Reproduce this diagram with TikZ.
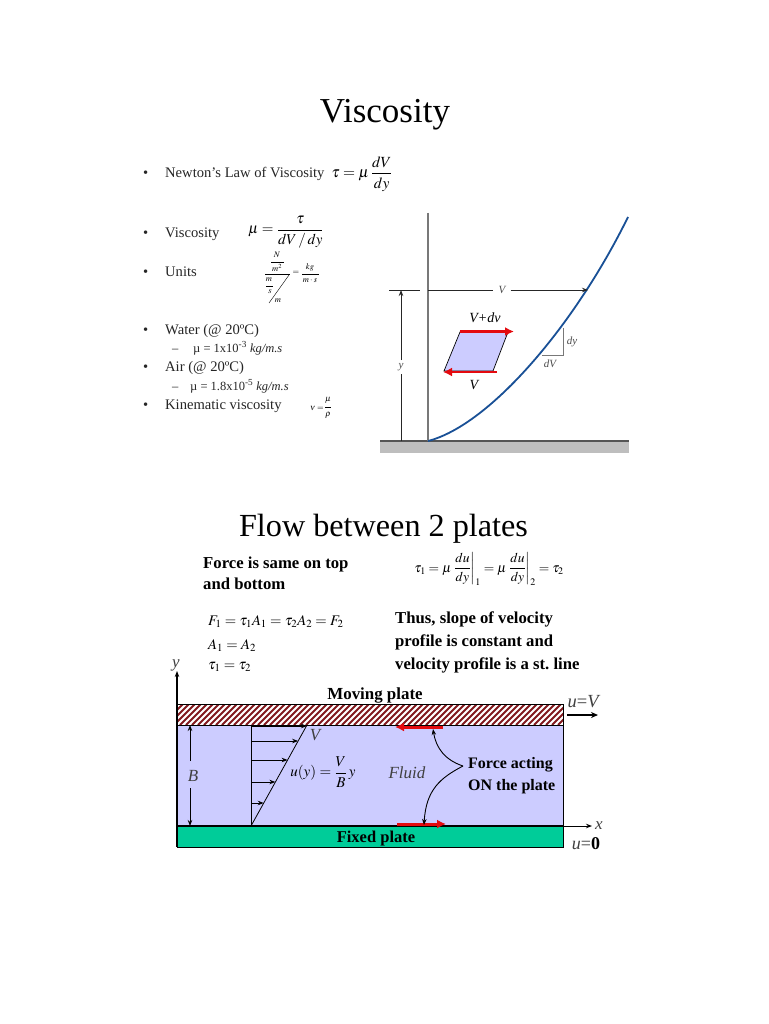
\documentclass[tikz,border=0pt]{standalone}
\usepackage{amsmath}
\usepackage{mathptmx}
\usepackage{fontspec}
\setmainfont{Liberation Serif}
\usetikzlibrary{arrows.meta}
\definecolor{fluid1}{RGB}{204,204,255}
\definecolor{plate1}{RGB}{0,204,153}
\definecolor{hatch1}{RGB}{130,25,30}
\definecolor{force1}{RGB}{228,10,15}
\definecolor{curve1}{RGB}{25,80,150}
\definecolor{wall1}{RGB}{120,120,120}
\definecolor{ground1}{RGB}{190,190,190}
\tikzset{
  every node/.style={inner sep=0pt},
  title/.style={font=\fontsize{35}{40}\selectfont},
  item/.style={anchor=base west,font=\fontsize{14.6}{17}\selectfont,text=black!85},
  subitem/.style={anchor=base west,font=\fontsize{12.5}{15}\selectfont,text=black!85},
  note/.style={anchor=base west,font=\fontsize{16.7}{20}\bfseries\selectfont},
  eqn/.style={font=\fontsize{14}{17}\selectfont},
  eqnb/.style={anchor=base west,font=\fontsize{14.7}{17}\selectfont},
  tiny1/.style={font=\fontsize{8.5}{10}\selectfont},
  lab/.style={font=\fontsize{11}{13}\itshape\selectfont,text=black!70},
  force/.style={force1,line width=3pt,-{Latex[length=9pt,width=9pt]}},
  thin1/.style={-{Stealth[length=6pt,width=4.5pt]},line width=0.9pt},
  big1/.style={font=\fontsize{17}{20}\itshape\selectfont,text=black!75},
}
\begin{document}
\begin{tikzpicture}[x=1pt,y=-1pt]
  \def\xl{177};  
  \def\xr{563};  
  \def\yh{704};  
  \def\yt{725};  
  \def\yb{826};  
  \def\yg{847};  
  \useasboundingbox (0,0) rectangle (768,1024);
  \fill[white] (0,0) rectangle (768,1024);
  \node[title] (title1) at (385,115) {Viscosity};
  \node[title,font=\fontsize{32.2}{38}\selectfont] (title2) at (383.5,529) {Flow between 2 plates};
  %bullets
  \foreach \n/\y/\t in {newton/178/Newton’s Law of Viscosity,visc/237/Viscosity,units/276/Units,water/334/Water (@ 20ºC),air/371/Air (@ 20ºC),kin/409/Kinematic viscosity}{
    \node[item] (b\n) at (143,\y) {•};
    \node[item] (t\n) at (165,\y) {\t};
  }
  \node[subitem] (d1) at (172,352) {–};
  \node[subitem] (v1) at (193,352) {µ = 1x10\textsuperscript{-3} \textit{kg/m.s}};
  \node[subitem] (d2) at (172,390) {–};
  \node[subitem] (v2) at (190,390) {µ = 1.8x10\textsuperscript{-5} \textit{kg/m.s}};
  \node[eqn,font=\fontsize{15.5}{19}\selectfont] (eq1) at (362,174) {$\tau=\mu\,\dfrac{dV}{dy}$};
  \node[eqn,font=\fontsize{15}{18}\selectfont] (eq2) at (286,232) {$\mu=\dfrac{\tau}{dV\,/\,dy}$};
  %units
  \node[tiny1] (un) at (277,255) {$N$};
  \draw[] (271,262)--(284,262);
  \node[tiny1] (um) at (277,268) {$m^2$};
  \draw[] (265,274)--(290,274);
  \node[tiny1] (um2) at (269,280) {$m$};
  \draw[] (266,286)--(273,286);
  \node[tiny1] (us) at (270,292) {$s$};
  \draw[] (289,275)--(269,303);
  \node[tiny1] (um3) at (278,301) {$m$};
  \node[tiny1] (ue) at (296,273) {$=$};
  \node[tiny1] (uk) at (310,267) {$kg$};
  \draw[] (302,274)--(319,274);
  \node[tiny1] (ums) at (310,281) {$m\cdot s$};
  \node[tiny1] (nu) at (317,408) {$\nu=$};
  \node[tiny1] (nu2) at (328,400) {$\mu$};
  \draw[] (325,407.5)--(331,407.5);
  \node[tiny1] (nu3) at (328,415) {$\rho$};
  %velocity gradient picture
  \fill[ground1] (380,441) rectangle (629,453);
  \draw[wall1!70!black,line width=1.5pt] (380,441)--(629,441);
  \draw[wall1,line width=1.2pt] (428,213)--(428,441);
  \draw[curve1,line width=1.8pt] (428,441) .. controls (490,425) and (575,325) .. (628,217);
  \draw[black!85,line width=0.9pt] (389,290)--(420,290);
  \coordinate (vs) at (428,290);
  \coordinate (ve) at (588,290);
  \node[lab,fill=white,inner xsep=5pt,inner ysep=1pt] (vl) at (502,290) {V};
  \draw[line width=0.9pt,black!85] (vs)--(vl);
  \draw[thin1,black!85] (vl)--(ve);
  \coordinate (ys) at (401,441);
  \coordinate (ye) at (401,290);
  \node[lab,fill=white,inner ysep=3pt,inner xsep=2pt] (yl) at (401,367) {y};
  \draw[line width=0.9pt,black!85] (ys)--(yl);
  \draw[thin1,black!85] (yl)--(ye);
  \draw[fill=fluid1,line width=0.7pt] (460,332)--(508,332)--(493,371)--(444,371)--cycle;
  \draw[force,line width=2.5pt] (460,331.5)--(514,331.5);
  \draw[force,line width=2.5pt] (497,372)--(443,372);
  \node[font=\fontsize{14}{17}\itshape\selectfont] (vdv) at (485,318) {V+dv};
  \node[font=\fontsize{14}{17}\itshape\selectfont] (vb) at (474,385) {V};
  \draw[wall1,line width=0.9pt] (542,355)--(563,355)--(563,328);
  \node[lab] (dy) at (572,342) {dy};
  \node[lab] (dv) at (550,364) {dV};
  %plates
  \fill[fluid1] (\xl,\yt) rectangle (\xr,\yb);
  \fill[plate1] (\xl,\yb) rectangle (\xr,\yg);
  \begin{scope}
    \clip (\xl,\yh) rectangle (\xr,\yt);
    \foreach \i in {0,6,...,420}{
      \draw[hatch1,line width=1.8pt] (\xl+\i-21,\yt)--(\xl+\i,\yh);
    }
  \end{scope}
  \draw[] (\xl,\yh)--(\xr,\yh);
  \draw[black,line width=0.8pt] (\xl,\yt)--(\xr,\yt);
  \draw[line width=0.7pt] (\xr,\yh)--(\xr,\yg)--(\xl,\yg);
  \draw[line width=1.2pt] (\xl,\yb)--(\xr,\yb);
  \coordinate (o) at (\xl,\yg);
  \coordinate (yt) at (\xl,671);
  \coordinate (xt) at (592,\yb);
  \draw[thin1,line width=1.2pt] (o)--(yt);
  \draw[thin1] (\xr,\yb)--(xt);
  \node[big1] (ylab) at (176,665) {y};
  \node[big1] (xlab) at (599,826) {x};
  \node[font=\fontsize{18.5}{21}\selectfont,text=black!75] (uv) at (584,702) {\textit{u}=\textit{V}};
  \node[font=\fontsize{18}{21}\selectfont,text=black!75] (u0) at (586,844) {\textit{u}=\textbf{\textcolor{black}{0}}};
  \coordinate (us1) at (567,715);
  \coordinate (ue1) at (598,715);
  \draw[-{Stealth[length=7pt,width=6pt]},line width=1.2pt] (us1)--(ue1);
  \node[font=\fontsize{16.9}{20}\bfseries\selectfont] (moving) at (375,695) {Moving plate};
  \node[font=\fontsize{16.5}{20}\bfseries\selectfont] (fixed) at (376,839) {Fixed plate};
  %gap
  \node[big1] (blab) at (193,776) {B};
  \coordinate (bt) at (190,\yt);
  \coordinate (bb) at (190,\yb);
  \coordinate (bu) at (190,761);
  \coordinate (bd) at (190,788);
  \draw[thin1] (bu)--(bt);
  \draw[thin1] (bd)--(bb);
  %profile
  \draw[line width=0.8pt] (251,\yb)--(251,\yt);
  \draw[line width=0.8pt] (251,\yb)--(307,\yt);
  \draw[thin1] (251,726)--(307,726);
  \foreach \y in {741,760,782,803}{
    \draw[thin1] (251,\y)--({251+56*(826-\y)/101},\y);
  }
  \node[big1] (vtop) at (315,735) {V};
  \node[eqn,font=\fontsize{15}{18}\selectfont] (prof) at (323,772) {$u(y)=\dfrac{V}{B}\,y$};
  \node[big1] (fl) at (407,773) {Fluid};
  %forces
  \draw[force] (443,727)--(395,727);
  \draw[force] (397,824)--(446,824);
  \node[note,anchor=west,font=\fontsize{16}{19}\bfseries\selectfont] (fa) at (468,765) {Force acting};
  \node[note,anchor=west,font=\fontsize{16}{19}\bfseries\selectfont] (fb) at (468,787) {ON the plate};
  \coordinate (fv) at (463,766);
  \coordinate (ft) at (433,729);
  \coordinate (fd) at (424,825);
  \draw[thin1] (fv) .. controls (445,760) and (436,748) .. (ft);
  \draw[thin1] (fv) .. controls (440,778) and (426,790) .. (fd);
  %top notes
  \node[note] (n1) at (203,568) {Force is same on top};
  \node[note] (n2) at (203,589) {and bottom};
  \node[note] (n3) at (395,623) {Thus, slope of velocity};
  \node[note] (n4) at (395,646) {profile is constant and};
  \node[note] (n5) at (395,669) {velocity profile is a st.\ line};
  \node[eqn,font=\fontsize{13.5}{16}\selectfont] (eq3) at (489,569) {$\tau_1=\mu\left.\dfrac{du}{dy}\right|_1=\mu\left.\dfrac{du}{dy}\right|_2=\tau_2$};
  \node[eqnb] (f1) at (208,625) {$F_1=\tau_1A_1=\tau_2A_2=F_2$};
  \node[eqnb] (f2) at (208,649) {$A_1=A_2$};
  \node[eqnb] (f3) at (208,669) {$\tau_1=\tau_2$};
\end{tikzpicture}
\end{document}
